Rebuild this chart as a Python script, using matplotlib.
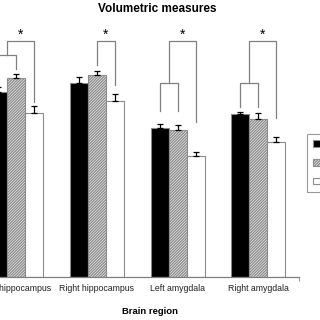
import matplotlib
matplotlib.use("Agg")
import matplotlib.pyplot as plt
import numpy as np

plt.rcParams['font.family'] = ['Liberation Sans', 'DejaVu Sans']
plt.rcParams['hatch.linewidth'] = 1.0

regions = ["Left hippocampus", "Right hippocampus", "Left amygdala", "Right amygdala"]
series_names = ["Group 1", "Group 2", "Group 3"]
group1 = [3.70, 3.88, 2.98, 3.26]
group2 = [3.98, 4.04, 2.94, 3.16]
group3 = [3.28, 3.52, 2.42, 2.70]
err1 = [0.10, 0.12, 0.08, 0.04]
err2 = [0.08, 0.08, 0.10, 0.12]
err3 = [0.14, 0.14, 0.08, 0.10]

# significance brackets
# inner: (group, left bar, right bar, level, left leg end, right leg end)
inner_brackets = [
    (0, 0, 1, 4.44, 4.00, 4.16),
    (2, 0, 1, 3.88, 3.32, 3.32),
    (3, 0, 1, 3.88, 3.40, 3.40),
]
# outer: (group, left bar or "inner", right bar, top, left leg end, right leg end)
outer_brackets = [
    (0, "inner", 2, 4.72, 4.44, 3.50),
    (1, 1, 2, 4.72, 4.24, 3.84),
    (2, "inner", 2, 4.72, 3.88, 3.10),
    (3, "inner", 2, 4.72, 3.88, 3.18),
]

fig = plt.figure(figsize=(3.2, 3.2), dpi=100)
ax = fig.add_axes([-24/320, 43/320, 322.5/320, 247/320])

x = np.arange(len(regions))
w = 0.223
series = [group1, group2, group3]
errs = [err1, err2, err3]
faces = ['black', 'white', 'white']
hatches = [None, '/' * 12, None]
for i, (vals, e) in enumerate(zip(series, errs)):
    pos = x + (i - 1) * w
    ax.bar(pos, vals, w, color=faces[i], edgecolor='#8c8c8c', linewidth=0.8,
           hatch=hatches[i], label=series_names[i], zorder=2)
    ax.errorbar(pos, vals, yerr=[np.zeros(len(e)), e], fmt='none',
                ecolor='black', elinewidth=0.9, capsize=2.2, capthick=0.9, zorder=3)

lc = '#808080'
for g, a, b, lvl, la, lb in inner_brackets:
    xa = g + (a - 1) * w
    xb = g + (b - 1) * w
    ax.plot([xa, xa, xb, xb], [la, lvl, lvl, lb], color=lc, lw=0.9, clip_on=False)
for g, a, b, top, la, lb in outer_brackets:
    if a == "inner":
        xa = g - w / 2
    else:
        xa = g + (a - 1) * w
    xb = g + (b - 1) * w
    ax.plot([xa, xa, xb, xb], [la, top, top, lb], color=lc, lw=0.9, clip_on=False)
    ax.text((xa + xb) / 2, top - 0.02, "*", ha='center', va='bottom',
            fontsize=10, clip_on=False)

ax.set_xlim(-0.5, 3.5)
ax.set_ylim(0, 4.94)
ax.set_xticks(x)
ax.set_xticklabels(regions, fontsize=6.3, color='#222222')
ax.tick_params(axis='x', length=0, pad=5)
ax.set_xticks([3.5], minor=True)
ax.tick_params(axis='x', which='minor', length=3, color=lc)
ax.set_yticks([])
for s in ['top', 'right', 'left']:
    ax.spines[s].set_visible(False)
ax.spines['bottom'].set_color(lc)
ax.spines['bottom'].set_linewidth(0.9)

fig.text(157/320, 1 - 9/320, "Volumetric measures", ha='center', va='center',
         fontsize=8.5, fontweight='bold')
fig.text(150/320, 1 - 312/320, "Brain region", ha='center', va='center',
         fontsize=6.8, fontweight='bold')

leg = ax.legend(loc='upper left', bbox_to_anchor=(307/320, 1 - 134/320),
                bbox_transform=fig.transFigure, fontsize=6.3, frameon=True,
                fancybox=False, edgecolor=lc, handlelength=0.8, handleheight=0.8,
                labelspacing=1.1, borderpad=0.65, handletextpad=0.8, borderaxespad=0)
leg.get_frame().set_linewidth(0.8)

fig.savefig("out.png", dpi=100)
